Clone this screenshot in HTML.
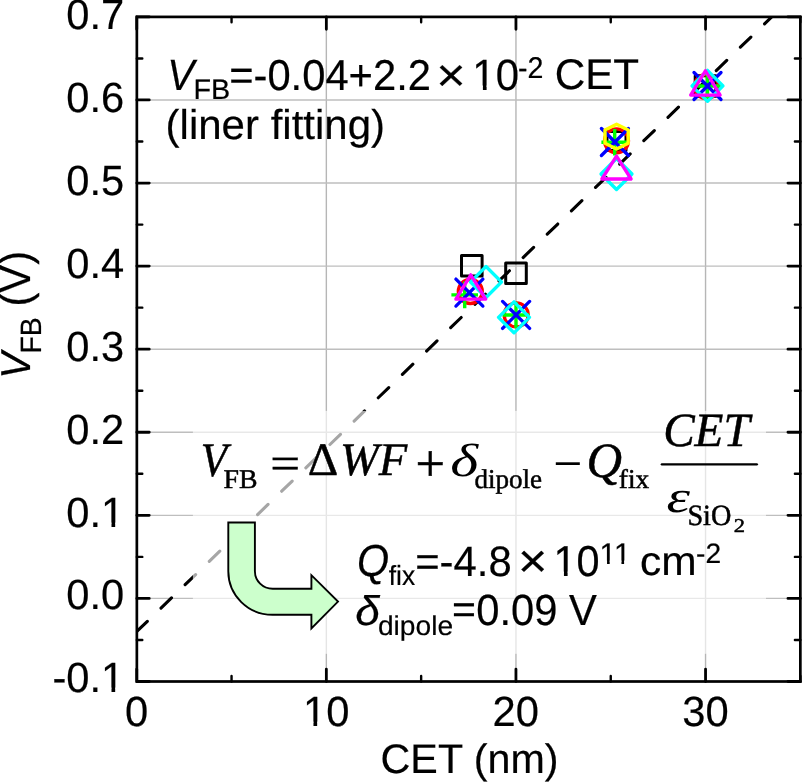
<!DOCTYPE html><html><head><meta charset="utf-8"><title>VFB vs CET</title><style>html,body{margin:0;padding:0;background:#fff;overflow:hidden}svg{display:block}</style></head><body>
<svg width="804" height="782" viewBox="0 0 804 782" text-rendering="geometricPrecision">
<rect width="804" height="782" fill="#fff"/>
<path d="M326.35 16.90V681.50M515.95 16.90V681.50M705.55 16.90V681.50" stroke="#b6b6b6" stroke-width="1.4" fill="none"/>
<path d="M136.85 598.42H800.35M136.85 515.35H800.35M136.85 432.27H800.35M136.85 349.20H800.35M136.85 266.12H800.35M136.85 183.05H800.35M136.85 99.98H800.35" stroke="#bebebe" stroke-width="1.4" fill="none"/>
<clipPath id="cp"><rect x="136.85" y="16.9" width="663.50" height="664.60"/></clipPath>
<path d="M136.85 631.45L778.84 10.00" stroke="#000" stroke-width="3.1" stroke-dasharray="14.6 19" stroke-linecap="round" fill="none" clip-path="url(#cp)"/>
<rect x="461.50" y="255.50" width="20.60" height="20.60" fill="none" stroke="#000" stroke-width="3.0" stroke-linejoin="round"/>
<circle cx="470.30" cy="291.50" r="12" fill="none" stroke="#f00" stroke-width="3.3"/>
<path d="M451.40 294.90H478.00M464.70 281.60V308.20" stroke="#0f0" stroke-width="3.4" fill="none"/>
<path d="M455.90 279.10L482.90 306.10M455.90 306.10L482.90 279.10" stroke="#00f" stroke-width="3.3" stroke-linecap="round" fill="none"/>
<path d="M486.00 266.50L501.50 282.00L486.00 297.50L470.50 282.00Z" stroke="#0ff" stroke-width="3.3" stroke-linejoin="round" fill="none"/>
<path d="M470.80 274.80L485.70 299.20L455.90 299.20Z" stroke="#f0f" stroke-width="3.3" stroke-linejoin="round" fill="none"/>
<rect x="505.70" y="263.00" width="20.60" height="20.60" fill="none" stroke="#000" stroke-width="3.0" stroke-linejoin="round"/>
<circle cx="516.20" cy="314.90" r="12" fill="none" stroke="#f00" stroke-width="3.3"/>
<path d="M502.70 315.00H529.30M516.00 301.70V328.30" stroke="#0f0" stroke-width="3.4" fill="none"/>
<path d="M502.60 301.40L529.60 328.40M502.60 328.40L529.60 301.40" stroke="#00f" stroke-width="3.3" stroke-linecap="round" fill="none"/>
<path d="M514.00 301.80L529.50 317.30L514.00 332.80L498.50 317.30Z" stroke="#0ff" stroke-width="3.3" stroke-linejoin="round" fill="none"/>
<rect x="607.00" y="131.50" width="19.00" height="19.00" fill="none" stroke="#000" stroke-width="3.0" stroke-linejoin="round"/>
<circle cx="616.50" cy="140.80" r="12" fill="none" stroke="#f00" stroke-width="3.3"/>
<path d="M601.40 142.30H628.00M614.70 129.00V155.60" stroke="#0f0" stroke-width="3.4" fill="none"/>
<path d="M601.40 128.50L628.40 155.50M601.40 155.50L628.40 128.50" stroke="#00f" stroke-width="3.3" stroke-linecap="round" fill="none"/>
<path d="M616.50 158.50L632.00 174.00L616.50 189.50L601.00 174.00Z" stroke="#0ff" stroke-width="3.3" stroke-linejoin="round" fill="none"/>
<path d="M616.50 156.10L631.10 179.00L601.90 179.00Z" stroke="#f0f" stroke-width="3.3" stroke-linejoin="round" fill="none"/>
<path d="M616.60 124.30L628.20 130.10L628.20 143.30L616.60 149.10L605.00 143.30L605.00 130.10Z" stroke="#ff0" stroke-width="3.4" stroke-linejoin="round" fill="none"/>
<rect x="695.20" y="75.70" width="20.60" height="20.60" fill="none" stroke="#000" stroke-width="3.0" stroke-linejoin="round"/>
<circle cx="706.50" cy="86.50" r="12" fill="none" stroke="#f00" stroke-width="3.3"/>
<path d="M694.20 86.00H720.80M707.50 72.70V99.30" stroke="#0f0" stroke-width="3.4" fill="none"/>
<path d="M694.00 72.50L721.00 99.50M694.00 99.50L721.00 72.50" stroke="#00f" stroke-width="3.3" stroke-linecap="round" fill="none"/>
<path d="M707.50 70.30L723.00 85.80L707.50 101.30L692.00 85.80Z" stroke="#0ff" stroke-width="3.3" stroke-linejoin="round" fill="none"/>
<path d="M705.40 70.75L720.15 95.05L690.65 95.05Z" stroke="#f0f" stroke-width="3.3" stroke-linejoin="round" fill="none"/>
<path d="M136.75 681.50V669.10M136.75 16.90V29.30M326.35 681.50V669.10M326.35 16.90V29.30M515.95 681.50V669.10M515.95 16.90V29.30M705.55 681.50V669.10M705.55 16.90V29.30M136.85 681.50H149.25M800.35 681.50H787.95M136.85 598.42H149.25M800.35 598.42H787.95M136.85 515.35H149.25M800.35 515.35H787.95M136.85 432.27H149.25M800.35 432.27H787.95M136.85 349.20H149.25M800.35 349.20H787.95M136.85 266.12H149.25M800.35 266.12H787.95M136.85 183.05H149.25M800.35 183.05H787.95M136.85 99.97H149.25M800.35 99.97H787.95M136.85 16.90H149.25M800.35 16.90H787.95" stroke="#000" stroke-width="2.8" stroke-linecap="round" fill="none"/>
<path d="M231.55 681.50V676.05M231.55 16.90V22.35M421.15 681.50V676.05M421.15 16.90V22.35M610.75 681.50V676.05M610.75 16.90V22.35M800.35 681.50V676.05M800.35 16.90V22.35M136.85 639.96H142.30M800.35 639.96H794.90M136.85 556.89H142.30M800.35 556.89H794.90M136.85 473.81H142.30M800.35 473.81H794.90M136.85 390.74H142.30M800.35 390.74H794.90M136.85 307.66H142.30M800.35 307.66H794.90M136.85 224.59H142.30M800.35 224.59H794.90M136.85 141.51H142.30M800.35 141.51H794.90M136.85 58.44H142.30M800.35 58.44H794.90" stroke="#000" stroke-width="2.4" stroke-linecap="round" fill="none"/>
<rect x="136.85" y="16.9" width="663.50" height="664.60" fill="none" stroke="#000" stroke-width="2.7"/>
<text transform="matrix(0.9922 0 0 1.0072 124.19 692.31)" font-family="'Liberation Sans', Arial, sans-serif" font-size="42" text-anchor="end" stroke="#000" stroke-width="0.2">-0.1</text>
<rect x="103.19" y="687.64" width="8.31" height="5.16" fill="#fff"/><rect x="115.18" y="687.64" width="7.98" height="5.16" fill="#fff"/>
<text transform="matrix(0.9922 0 0 1.0072 124.19 609.43)" font-family="'Liberation Sans', Arial, sans-serif" font-size="42" text-anchor="end" stroke="#000" stroke-width="0.2">0.0</text>
<text transform="matrix(0.9922 0 0 1.0072 124.19 526.55)" font-family="'Liberation Sans', Arial, sans-serif" font-size="42" text-anchor="end" stroke="#000" stroke-width="0.2">0.1</text>
<rect x="103.19" y="522.64" width="8.31" height="5.16" fill="#fff"/><rect x="115.18" y="522.64" width="7.98" height="5.16" fill="#fff"/>
<text transform="matrix(0.9922 0 0 1.0072 124.19 443.67)" font-family="'Liberation Sans', Arial, sans-serif" font-size="42" text-anchor="end" stroke="#000" stroke-width="0.2">0.2</text>
<text transform="matrix(0.9922 0 0 1.0072 124.19 360.79)" font-family="'Liberation Sans', Arial, sans-serif" font-size="42" text-anchor="end" stroke="#000" stroke-width="0.2">0.3</text>
<text transform="matrix(0.9922 0 0 1.0072 124.19 277.91)" font-family="'Liberation Sans', Arial, sans-serif" font-size="42" text-anchor="end" stroke="#000" stroke-width="0.2">0.4</text>
<text transform="matrix(0.9922 0 0 1.0072 124.19 195.03)" font-family="'Liberation Sans', Arial, sans-serif" font-size="42" text-anchor="end" stroke="#000" stroke-width="0.2">0.5</text>
<text transform="matrix(0.9922 0 0 1.0072 124.19 112.15)" font-family="'Liberation Sans', Arial, sans-serif" font-size="42" text-anchor="end" stroke="#000" stroke-width="0.2">0.6</text>
<text transform="matrix(0.9922 0 0 1.0072 124.19 29.27)" font-family="'Liberation Sans', Arial, sans-serif" font-size="42" text-anchor="end" stroke="#000" stroke-width="0.2">0.7</text>
<text transform="matrix(0.9929 0 0 1.0045 136.58 726.24)" font-family="'Liberation Sans', Arial, sans-serif" font-size="42" text-anchor="middle" stroke="#000" stroke-width="0.2">0</text>
<text transform="matrix(0.9929 0 0 1.0045 326.18 726.24)" font-family="'Liberation Sans', Arial, sans-serif" font-size="42" text-anchor="middle" stroke="#000" stroke-width="0.2">10</text>
<rect x="305.16" y="721.65" width="8.31" height="5.15" fill="#fff"/><rect x="317.16" y="721.65" width="7.98" height="5.15" fill="#fff"/>
<text transform="matrix(0.9929 0 0 1.0045 515.78 726.24)" font-family="'Liberation Sans', Arial, sans-serif" font-size="42" text-anchor="middle" stroke="#000" stroke-width="0.2">20</text>
<text transform="matrix(0.9929 0 0 1.0045 705.38 726.24)" font-family="'Liberation Sans', Arial, sans-serif" font-size="42" text-anchor="middle" stroke="#000" stroke-width="0.2">30</text>
<text transform="matrix(1.0062 0 0 1.0062 380.57 773.02)" font-family="'Liberation Sans', Arial, sans-serif" font-size="41" stroke="#000" stroke-width="0.2">CET (nm)</text>
<text transform="rotate(-90) matrix(0.9478 0 0 0.9952 -378.84 30.00)" font-family="'Liberation Sans', Arial, sans-serif" font-size="42" font-style="italic" stroke="#000" stroke-width="0.2">V</text>
<text transform="rotate(-90) matrix(1.0116 0 0 1.0493 -353.44 41.00)" font-family="'Liberation Sans', Arial, sans-serif" font-size="28" stroke="#000" stroke-width="0.2">FB</text>
<text transform="rotate(-90) matrix(0.9958 0 0 1.0456 -306.62 29.70)" font-family="'Liberation Sans', Arial, sans-serif" font-size="42" stroke="#000" stroke-width="0.2">(V)</text>
<rect x="192.9" y="410.9" width="573.1" height="242.9" fill="#fff" fill-opacity="0.65"/>
<text transform="matrix(0.9661 0 0 1.0466 167.29 89.80)" font-family="'Liberation Sans', Arial, sans-serif" font-size="42" font-style="italic" stroke="#000" stroke-width="0.2">V</text>
<text transform="matrix(1.0273 0 0 1.0077 193.42 99.30)" font-family="'Liberation Sans', Arial, sans-serif" font-size="28" stroke="#000" stroke-width="0.2">FB</text>
<text transform="matrix(0.9933 0 0 1.0286 229.16 89.56)" font-family="'Liberation Sans', Arial, sans-serif" font-size="42" stroke="#000" stroke-width="0.2">=-0.04+2.2</text>
<text transform="matrix(1.1998 0 0 1.1056 436.13 91.20)" font-family="'Liberation Sans', Arial, sans-serif" font-size="42" stroke="#000" stroke-width="0.2">×</text>
<text transform="matrix(0.9967 0 0 1.0420 472.37 89.73)" font-family="'Liberation Sans', Arial, sans-serif" font-size="42" stroke="#000" stroke-width="0.2">10</text>
<text transform="matrix(1.0205 0 0 1.0691 518.10 77.70)" font-family="'Liberation Sans', Arial, sans-serif" font-size="28" stroke="#000" stroke-width="0.2">-2</text>
<text transform="matrix(1.0044 0 0 1.0229 554.71 89.33)" font-family="'Liberation Sans', Arial, sans-serif" font-size="42" stroke="#000" stroke-width="0.2">CET</text>
<text transform="matrix(1.0005 0 0 0.9943 165.57 139.12)" font-family="'Liberation Sans', Arial, sans-serif" font-size="42" stroke="#000" stroke-width="0.2">(liner fitting)</text>
<rect x="474.56" y="85.53" width="8.34" height="5.27" fill="#fff"/><rect x="486.60" y="85.53" width="8.01" height="5.27" fill="#fff"/>
<text transform="matrix(0.9015 0 0 1.0034 200.80 475.90)" font-family="'Liberation Serif', 'Times New Roman', serif" font-size="48" font-style="italic" stroke="#000" stroke-width="0.5">V</text>
<text transform="matrix(0.9930 0 0 0.9643 223.60 488.00)" font-family="'Liberation Serif', 'Times New Roman', serif" font-size="28" stroke="#000" stroke-width="0.5">FB</text>
<text transform="matrix(1.1025 0 0 0.9750 270.35 479.25)" font-family="'Liberation Serif', 'Times New Roman', serif" font-size="48" stroke="#000" stroke-width="0.5">=</text>
<text transform="matrix(0.9885 0 0 0.9674 307.87 475.00)" font-family="'Liberation Serif', 'Times New Roman', serif" font-size="48" stroke="#000" stroke-width="0.5">Δ</text>
<text transform="matrix(0.9702 0 0 0.9715 340.04 475.29)" font-family="'Liberation Serif', 'Times New Roman', serif" font-size="48" font-style="italic" stroke="#000" stroke-width="0.5">WF</text>
<text transform="matrix(1.0890 0 0 1.0921 415.38 480.89)" font-family="'Liberation Serif', 'Times New Roman', serif" font-size="48" stroke="#000" stroke-width="0.5">+</text>
<text transform="matrix(1.2491 0 0 0.9727 450.33 475.96)" font-family="'Liberation Serif', 'Times New Roman', serif" font-size="48" font-style="italic">δ</text>
<text transform="matrix(0.9666 0 0 0.9690 474.48 487.79)" font-family="'Liberation Serif', 'Times New Roman', serif" font-size="28" stroke="#000" stroke-width="0.5">dipole</text>
<text transform="matrix(1.0254 0 0 1.0294 586.43 476.84)" font-family="'Liberation Serif', 'Times New Roman', serif" font-size="48" font-style="italic" stroke="#000" stroke-width="0.5">Q</text>
<text transform="matrix(0.9754 0 0 0.9648 618.86 487.80)" font-family="'Liberation Serif', 'Times New Roman', serif" font-size="28" stroke="#000" stroke-width="0.5">fix</text>
<text transform="matrix(0.9832 0 0 0.9935 663.13 446.11)" font-family="'Liberation Serif', 'Times New Roman', serif" font-size="48" font-style="italic" stroke="#000" stroke-width="0.5">CET</text>
<text transform="matrix(1.2421 0 0 0.9409 666.44 512.36)" font-family="'Liberation Serif', 'Times New Roman', serif" font-size="48" font-style="italic">ε</text>
<text transform="matrix(1.0081 0 0 1.0474 687.38 525.04)" font-family="'Liberation Serif', 'Times New Roman', serif" font-size="28" stroke="#000" stroke-width="0.5">SiO</text>
<text transform="matrix(1.1256 0 0 0.9761 733.82 531.50)" font-family="'Liberation Serif', 'Times New Roman', serif" font-size="20" stroke="#000" stroke-width="0.5">2</text>
<rect x="555.8" y="462.3" width="24" height="2.7" fill="#000"/>
<path d="M661.9 464.35H756.8" stroke="#000" stroke-width="2.4" stroke-linecap="round"/>
<path d="M228.3 522.5H254.9V571.3A17.8 17.5 0 0 0 272.7 588.8H311.4V575.2L338 601.6L311.4 628.4V614.8H272.6A44.3 43.5 0 0 1 228.3 571.3Z" fill="#ccffcc" stroke="#000" stroke-width="1.9"/>
<text transform="matrix(0.9849 0 0 1.0682 356.91 576.20)" font-family="'Liberation Sans', Arial, sans-serif" font-size="42" font-style="italic" stroke="#000" stroke-width="0.2">Q</text>
<text transform="matrix(0.9433 0 0 0.9876 388.72 585.00)" font-family="'Liberation Sans', Arial, sans-serif" font-size="28" stroke="#000" stroke-width="0.2">fix</text>
<text transform="matrix(0.9961 0 0 1.0116 415.15 575.54)" font-family="'Liberation Sans', Arial, sans-serif" font-size="42" stroke="#000" stroke-width="0.2">=-4.8</text>
<text transform="matrix(1.1998 0 0 1.1221 518.03 576.58)" font-family="'Liberation Sans', Arial, sans-serif" font-size="42" stroke="#000" stroke-width="0.2">×</text>
<text transform="matrix(0.9869 0 0 1.0285 553.51 575.53)" font-family="'Liberation Sans', Arial, sans-serif" font-size="42" stroke="#000" stroke-width="0.2">10</text>
<text transform="matrix(1.0681 0 0 1.0701 599.52 563.70)" font-family="'Liberation Sans', Arial, sans-serif" font-size="28" stroke="#000" stroke-width="0.2">11</text>
<text transform="matrix(1.0114 0 0 0.9727 640.07 575.35)" font-family="'Liberation Sans', Arial, sans-serif" font-size="42" stroke="#000" stroke-width="0.2">cm</text>
<text transform="matrix(1.0070 0 0 1.0023 696.02 563.00)" font-family="'Liberation Sans', Arial, sans-serif" font-size="28" stroke="#000" stroke-width="0.2">-2</text>
<text transform="matrix(1.0523 0 0 0.9857 355.17 625.16)" font-family="'Liberation Sans', Arial, sans-serif" font-size="42" font-style="italic" stroke="#000" stroke-width="0.2">δ</text>
<text transform="matrix(1.0044 0 0 0.9722 377.96 634.73)" font-family="'Liberation Sans', Arial, sans-serif" font-size="28" stroke="#000" stroke-width="0.2">dipole</text>
<text transform="matrix(0.9761 0 0 0.9562 451.99 623.49)" font-family="'Liberation Sans', Arial, sans-serif" font-size="42" stroke="#000" stroke-width="0.2">=</text>
<text transform="matrix(0.9944 0 0 1.0374 476.16 625.32)" font-family="'Liberation Sans', Arial, sans-serif" font-size="42" stroke="#000" stroke-width="0.2">0.09 V</text>
<rect x="555.67" y="571.57" width="8.27" height="5.23" fill="#fff"/><rect x="567.60" y="571.57" width="7.94" height="5.23" fill="#fff"/>
<rect x="600.80" y="560.56" width="6.24" height="4.24" fill="#fff"/><rect x="609.69" y="560.56" width="6.01" height="4.24" fill="#fff"/><rect x="615.21" y="560.56" width="6.24" height="4.24" fill="#fff"/><rect x="624.10" y="560.56" width="6.01" height="4.24" fill="#fff"/>
</svg></body></html>
